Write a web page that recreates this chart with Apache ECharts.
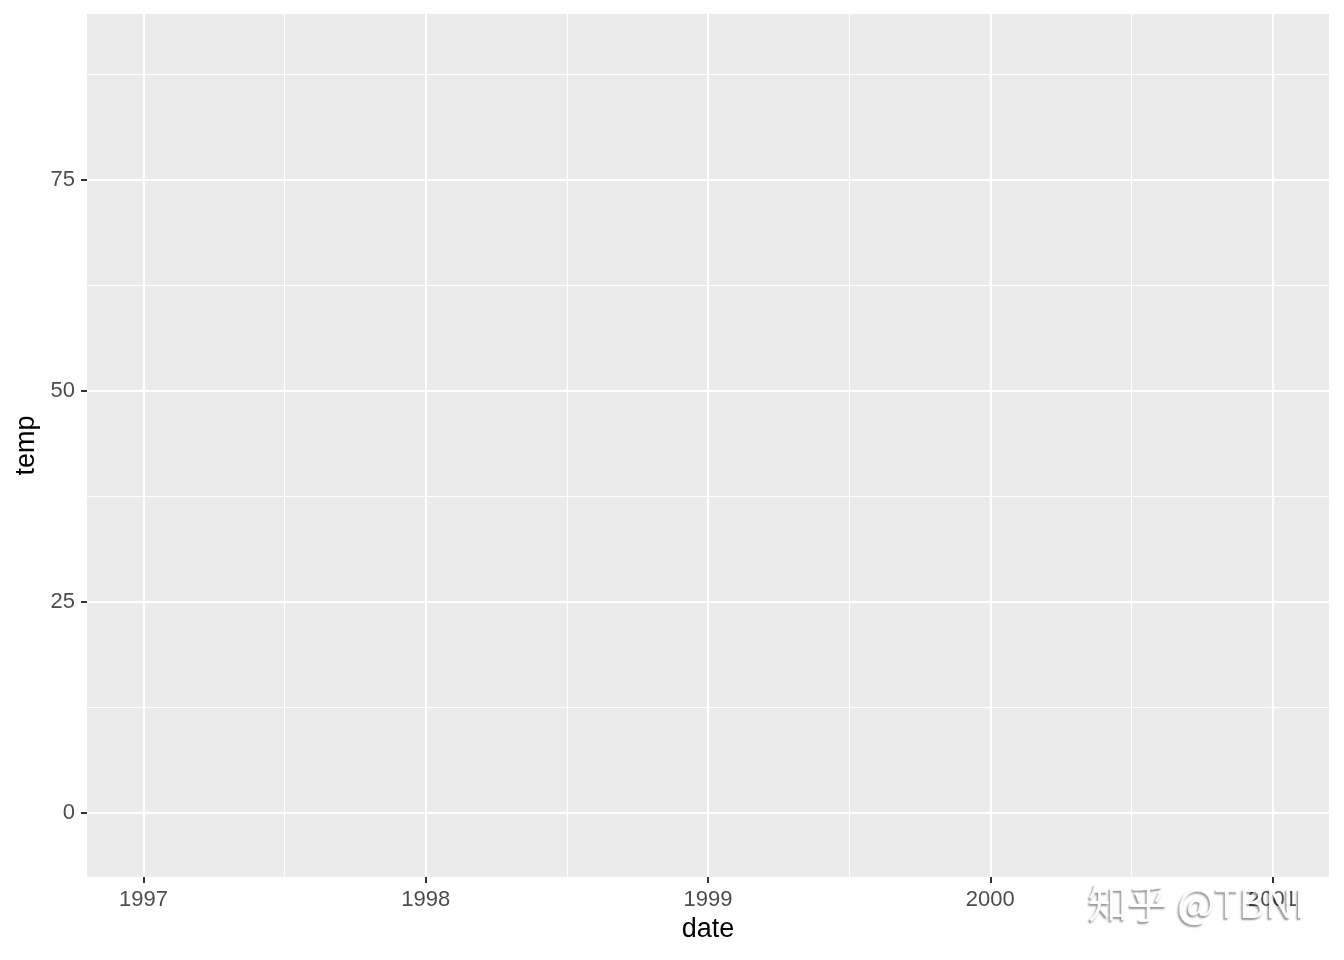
<!DOCTYPE html>
<html>
<head>
<meta charset="utf-8">
<script src="https://cdn.jsdelivr.net/npm/echarts@6/dist/echarts.min.js"></script>
<style>html,body{margin:0;padding:0;background:#fff}#c{width:1344px;height:960px}</style>
</head>
<body>
<div id="c"></div>
<script>
// Data (the reference shows an empty panel: no marks)
const seriesData = [];
const xMajorTicks = [1997, 1998, 1999, 2000, 2001];
const xMinorTicks = [1997.5, 1998.5, 1999.5, 2000.5];
const yMajorTicks = [0, 25, 50, 75];
const yMinorTicks = [12.5, 37.5, 62.5, 87.5];
const xRange = [1996.8, 2001.2];
const yRange = [-7.58, 94.67];
const xTitle = 'date';
const yTitle = 'temp';
const watermark = '知乎 @TBNI';

const FONT = '"Liberation Sans", Arial, sans-serif';
const chart = echarts.init(document.getElementById('c'), null, {renderer: 'canvas'});

chart.setOption({
  animation: false,
  grid: {left: 87, right: 15, top: 14, bottom: 83, show: true, backgroundColor: '#EBEBEB', borderWidth: 0, containLabel: false},
  xAxis: [
    {
      type: 'value', min: xRange[0], max: xRange[1], position: 'bottom',
      axisLine: {show: false, onZero: false},
      axisTick: {show: true, length: 6, customValues: xMajorTicks, lineStyle: {color: '#333333', width: 2}},
      axisLabel: {show: true, customValues: xMajorTicks, color: '#4D4D4D', fontSize: 22, fontFamily: FONT, margin: 12,
        formatter: v => String(v)},
      splitLine: {show: true, lineStyle: {color: '#ffffff', width: 2.1}},
      name: xTitle, nameLocation: 'middle', nameGap: 37,
      nameTextStyle: {color: '#000000', fontSize: 27, fontFamily: FONT}
    },
    {
      type: 'value', min: xRange[0], max: xRange[1], position: 'bottom',
      axisLine: {show: false, onZero: false},
      axisTick: {show: false, customValues: xMinorTicks},
      axisLabel: {show: false, customValues: xMinorTicks},
      splitLine: {show: true, lineStyle: {color: '#ffffff', width: 1.1}}
    }
  ],
  yAxis: [
    {
      type: 'value', min: yRange[0], max: yRange[1], position: 'left',
      axisLine: {show: false, onZero: false},
      axisTick: {show: true, length: 6, customValues: yMajorTicks, lineStyle: {color: '#333333', width: 2}},
      axisLabel: {show: true, customValues: yMajorTicks, color: '#4D4D4D', fontSize: 22, fontFamily: FONT, margin: 12,
        formatter: v => String(v)},
      splitLine: {show: true, lineStyle: {color: '#ffffff', width: 2.1}},
      name: yTitle, nameLocation: 'middle', nameGap: 45, nameRotate: 90,
      nameTextStyle: {color: '#000000', fontSize: 27, fontFamily: FONT}
    },
    {
      type: 'value', min: yRange[0], max: yRange[1], position: 'left',
      axisLine: {show: false, onZero: false},
      axisTick: {show: false, customValues: yMinorTicks},
      axisLabel: {show: false, customValues: yMinorTicks},
      splitLine: {show: true, lineStyle: {color: '#ffffff', width: 1.1}}
    }
  ],
  series: [
    {type: 'scatter', xAxisIndex: 0, yAxisIndex: 0, data: seriesData},
    {type: 'scatter', xAxisIndex: 1, yAxisIndex: 1, data: seriesData}
  ],
  graphic: [{
    type: 'text', left: 1088, top: 883, z: 100,
    style: {text: watermark, fontSize: 40, fontFamily: '"Noto Sans CJK SC", "Noto Sans", sans-serif',
      fill: 'rgba(255,255,255,0.95)', textShadowColor: 'rgba(0,0,0,0.45)', textShadowBlur: 2,
      textShadowOffsetX: -1.5, textShadowOffsetY: 1.5}
  }]
});
</script>
</body>
</html>
